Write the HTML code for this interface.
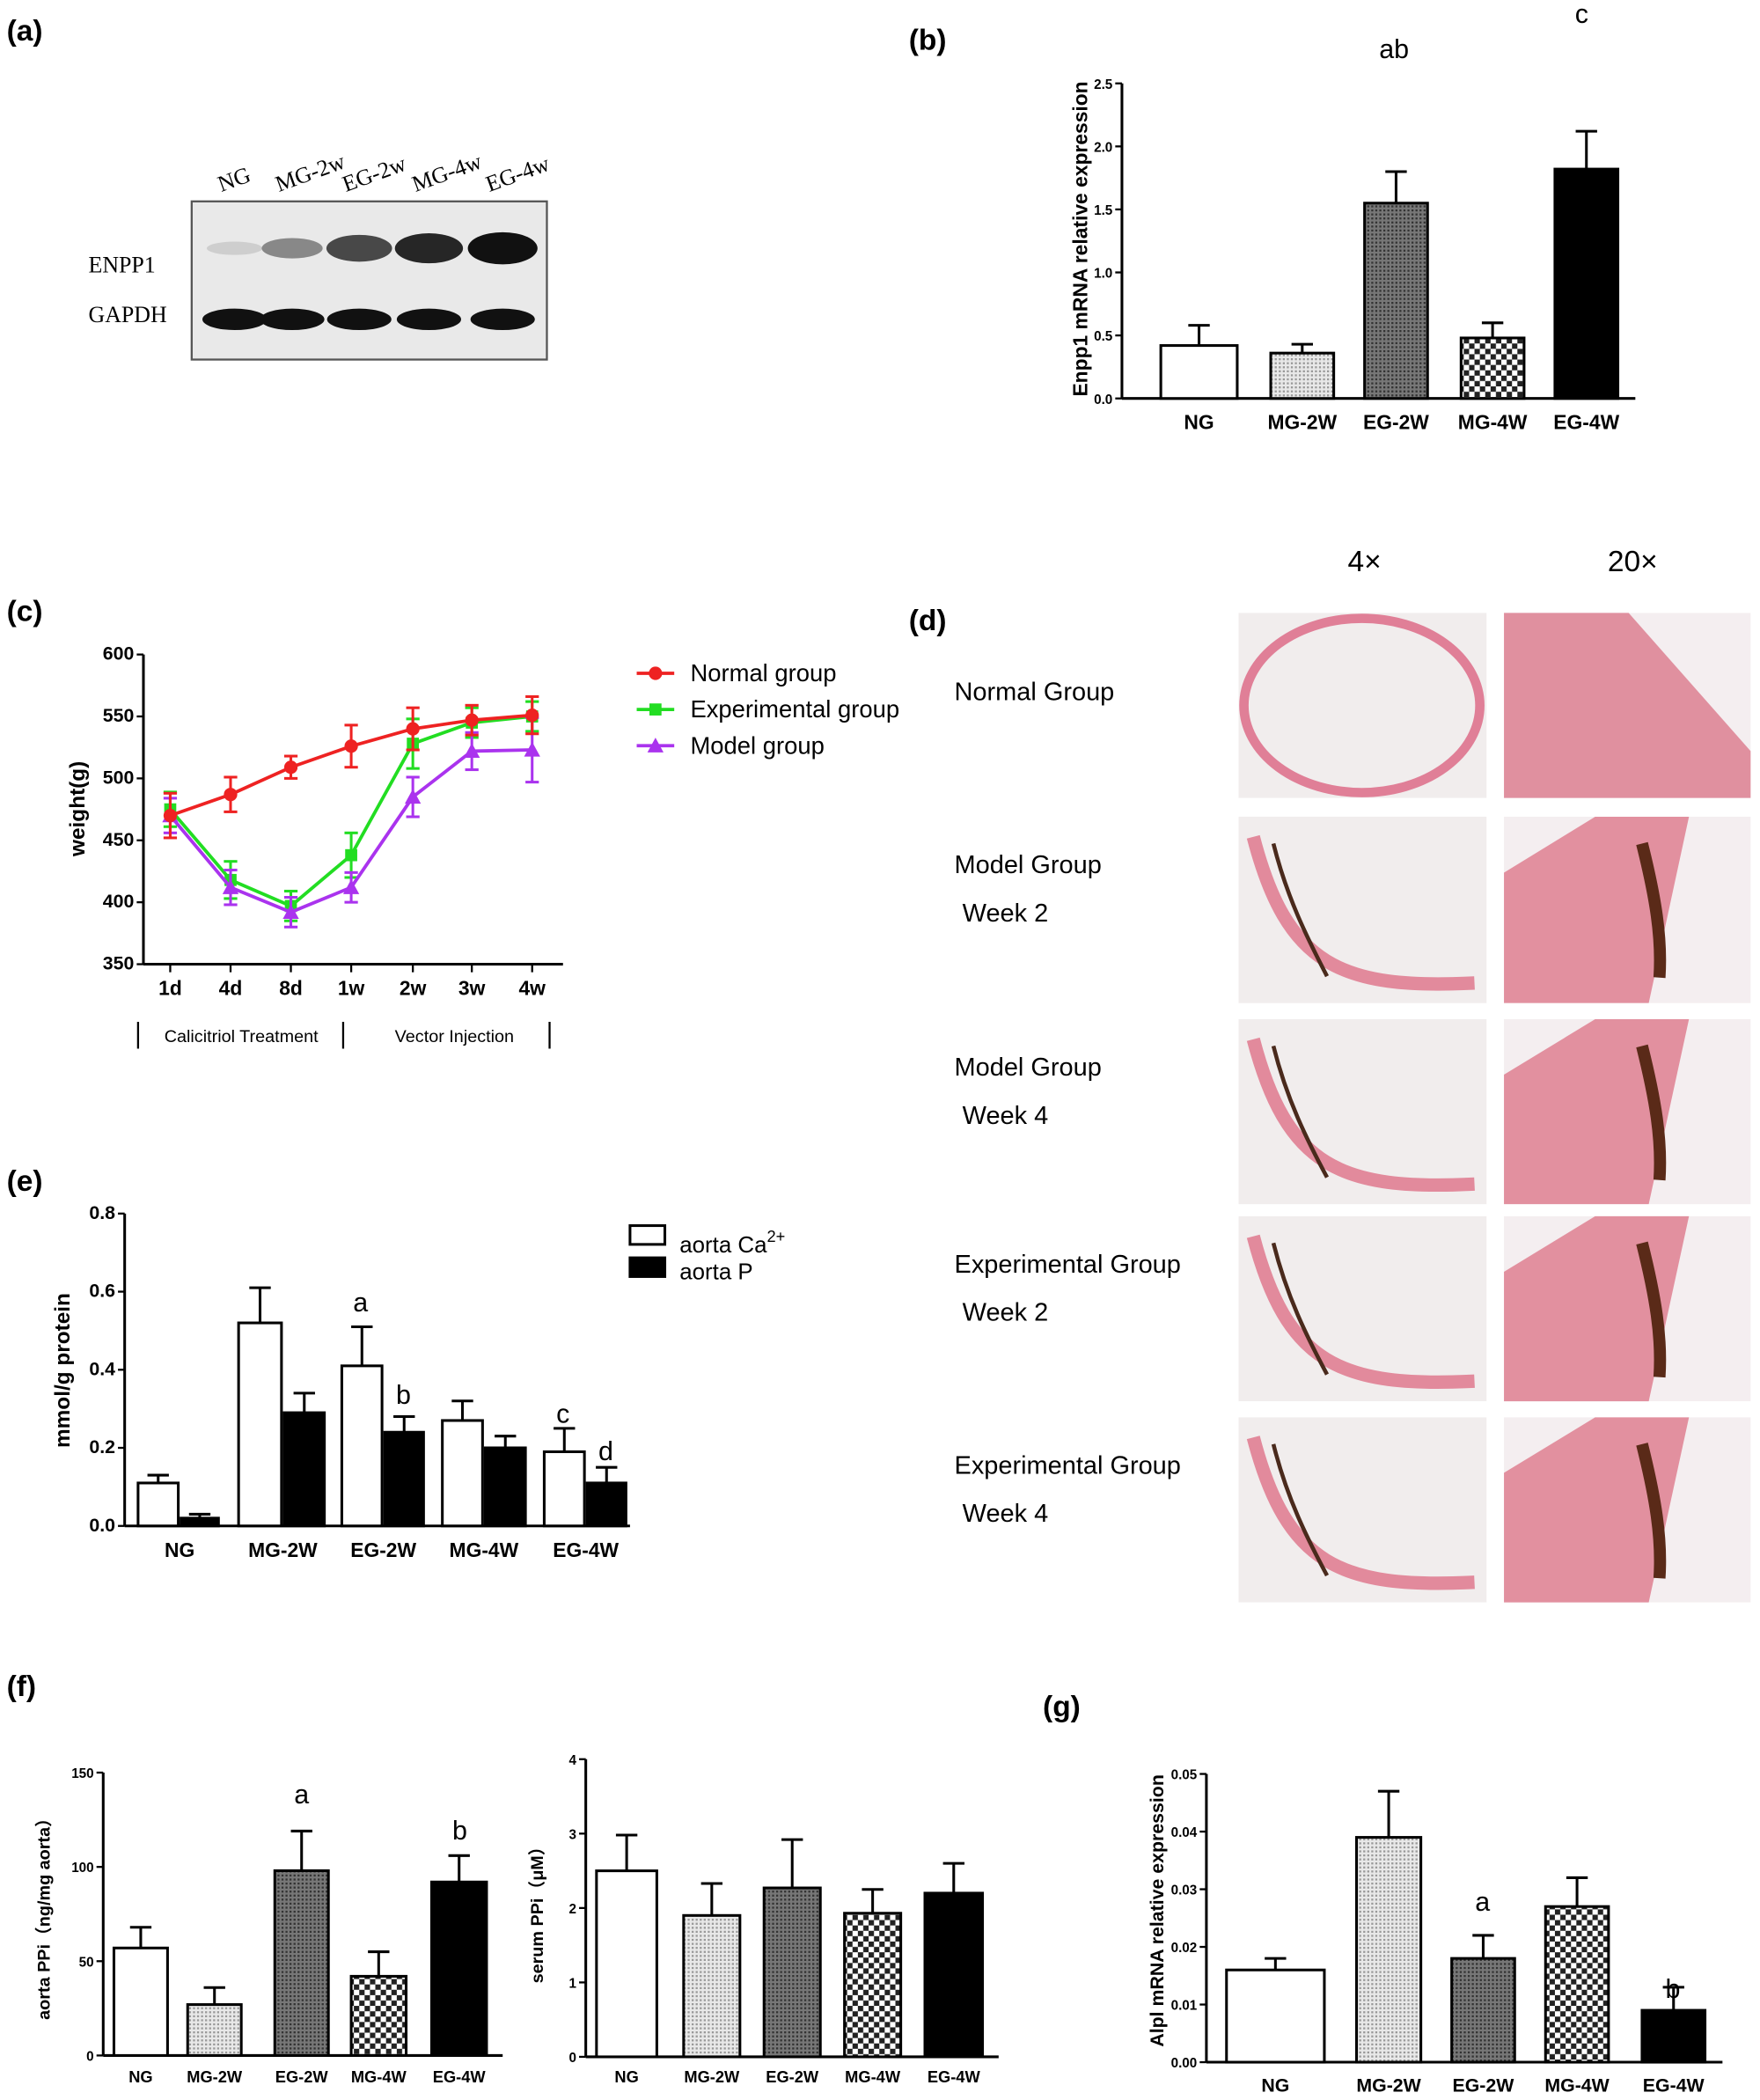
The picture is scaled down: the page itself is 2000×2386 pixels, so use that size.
<!DOCTYPE html>
<html><head><meta charset="utf-8"><style>
html,body{margin:0;padding:0;background:#fff;}
svg{display:block;font-family:"Liberation Sans",Arial,sans-serif;}
</style></head><body>
<svg id="s" width="2000" height="2386" viewBox="0 0 1313 1566" xmlns="http://www.w3.org/2000/svg">
<defs>
<pattern id="dot" width="3" height="3" patternUnits="userSpaceOnUse"><rect width="3" height="3" fill="#e8e8e8"/><rect width="1.5" height="1.5" fill="#999"/></pattern>
<pattern id="gr" width="3" height="3" patternUnits="userSpaceOnUse"><rect width="3" height="3" fill="#777"/><rect width="1.5" height="1.5" fill="#333"/></pattern>
<pattern id="ck" width="8" height="8" patternUnits="userSpaceOnUse"><rect width="8" height="8" fill="#fff"/><rect width="4" height="4" fill="#222"/><rect x="4" y="4" width="4" height="4" fill="#222"/></pattern>
</defs>
<g id="g"></g>
</svg>
<script>
var o='';
function T(x,y,t,sz,a,extra){o+='<text x="'+x+'" y="'+y+'" font-size="'+(sz||14)+'" text-anchor="'+(a||'start')+'" '+(extra||'')+'>'+t+'</text>';}
function L(x1,y1,x2,y2,w,c){o+='<line x1="'+x1+'" y1="'+y1+'" x2="'+x2+'" y2="'+y2+'" stroke="'+(c||'#000')+'" stroke-width="'+(w||1.5)+'"/>';}
function R(x,y,w,h,f,st){o+='<rect x="'+x+'" y="'+y+'" width="'+w+'" height="'+h+'" fill="'+f+'" stroke="'+(st||'#000')+'" stroke-width="2"/>';}
function bar(x1,x2,y0,ppu,v,e,f){var y=y0-v*ppu,ye=y0-e*ppu,m=(x1+x2)/2;L(m,y,m,ye,2);L(m-8,ye,m+8,ye,2);R(x1,y,x2-x1,v*ppu,f);}
function yaxis(x,yt,yb,ticks,fmt,sz){L(x,yt,x,yb,2);for(var i=0;i<ticks.length;i++){var y=yb-(yb-yt)*i/(ticks.length-1);L(x-5,y,x,y,1.5);T(x-7,y+4,ticks[i],sz||10,'end','font-weight="bold"');}}
T(5,30,'(a)',22,'start','font-weight="bold"');T(678,37,'(b)',22,'start','font-weight="bold"');
T(5,463,'(c)',22,'start','font-weight="bold"');T(678,470,'(d)',22,'start','font-weight="bold"');
T(5,888,'(e)',22,'start','font-weight="bold"');T(5,1265,'(f)',22,'start','font-weight="bold"');T(778,1280,'(g)',22,'start','font-weight="bold"');
o+='<rect x="143" y="150" width="265" height="118" fill="#e9e9e9" stroke="#555" stroke-width="1.5"/>';
var bx=[175,218,268,320,375],ei=[0.12,0.45,0.75,0.9,1];
for(var i=0;i<5;i++){o+='<ellipse cx="'+bx[i]+'" cy="185" rx="'+(20+ei[i]*6)+'" ry="'+(4+ei[i]*8)+'" fill="#111" opacity="'+ei[i]+'"/>';o+='<ellipse cx="'+bx[i]+'" cy="238" rx="24" ry="8" fill="#111"/>';}
var ln=['NG','MG-2w','EG-2w','MG-4w','EG-4w'];
for(var i=0;i<5;i++)T(bx[i]-10,143,ln[i],17,'start','font-family="Liberation Serif" transform="rotate(-20 '+(bx[i]-10)+' 143)"');
T(66,203,'ENPP1',17,'start','font-family="Liberation Serif"');T(66,240,'GAPDH',17,'start','font-family="Liberation Serif"');
yaxis(837,62,297,['0.0','0.5','1.0','1.5','2.0','2.5']);L(837,297,1220,297,2);
var p=94,xb=[[866,923],[948,995],[1018,1065],[1090,1137],[1160,1207]],vb=[.42,.36,1.55,.48,1.82],eb=[.58,.43,1.8,.6,2.12],fb=['#fff','url(#dot)','url(#gr)','url(#ck)','#000'],lb=['NG','MG-2W','EG-2W','MG-4W','EG-4W'];
for(var i=0;i<5;i++){bar(xb[i][0],xb[i][1],297,p,vb[i],eb[i],fb[i]);T((xb[i][0]+xb[i][1])/2,320,lb[i],15,'middle','font-weight="bold"');}
T(1040,43,'ab',20,'middle');T(1180,17,'c',20,'middle');
T(811,178,'Enpp1 mRNA relative expression',15,'middle','font-weight="bold" transform="rotate(-90 811 178)"');
yaxis(107,488,719,['350','400','450','500','550','600'],0,14);L(107,719,420,719,2);
var cx=[127,172,217,262,308,352,397],cl=['1d','4d','8d','1w','2w','3w','4w'];
for(var i=0;i<7;i++){L(cx[i],719,cx[i],725,1.5);T(cx[i],742,cl[i],15,'middle','font-weight="bold"');}
function cy(v){return 719-(v-350)*0.924;}
function series(vals,err,c,m){var d='';for(var i=0;i<7;i++){d+=(i?'L':'M')+cx[i]+','+cy(vals[i]);L(cx[i],cy(vals[i]-err[i]),cx[i],cy(vals[i]+err[i]),2,c);L(cx[i]-5,cy(vals[i]-err[i]),cx[i]+5,cy(vals[i]-err[i]),2,c);L(cx[i]-5,cy(vals[i]+err[i]),cx[i]+5,cy(vals[i]+err[i]),2,c);}
o+='<path d="'+d+'" fill="none" stroke="'+c+'" stroke-width="2.5"/>';for(var i=0;i<7;i++)mk(cx[i],cy(vals[i]),c,m);}
function mk(x,y,c,m){if(m==0)o+='<circle cx="'+x+'" cy="'+y+'" r="5" fill="'+c+'"/>';else if(m==1)o+='<rect x="'+(x-4.5)+'" y="'+(y-4.5)+'" width="9" height="9" fill="'+c+'"/>';else o+='<polygon points="'+x+','+(y-6)+' '+(x+6)+','+(y+5)+' '+(x-6)+','+(y+5)+'" fill="'+c+'"/>';}
series([475,418,397,438,528,545,550],[14,15,12,18,20,12,12],'#22dd22',1);
series([470,412,392,412,485,522,523],[14,14,12,12,16,15,26],'#aa33ee',2);
series([470,487,509,526,540,547,551],[18,14,9,17,17,12,15],'#ee2222',0);
T(63,603,'weight(g)',16,'middle','font-weight="bold" transform="rotate(-90 63 603)"');
var lc=['#ee2222','#22dd22','#aa33ee'],lt=['Normal group','Experimental group','Model group'];
for(var i=0;i<3;i++){var y=502+i*27;L(475,y,503,y,2.5,lc[i]);mk(489,y,lc[i],i);T(515,y+6,lt[i],18);}
L(103,762,103,782,1.5);L(256,762,256,782,1.5);L(410,762,410,782,1.5);
T(180,777,'Calicitriol Treatment',13,'middle');T(339,777,'Vector Injection',13,'middle');
T(1018,426,'4×',22,'middle');T(1218,426,'20×',22,'middle');
var ry=[[457,595],[609,748],[760,898],[907,1045],[1057,1195]];
var dl=[['Normal Group'],['Model Group','Week 2'],['Model Group','Week 4'],['Experimental Group','Week 2'],['Experimental Group','Week 4']];
for(var i=0;i<5;i++){var y0=ry[i][0],h=ry[i][1]-ry[i][0];
o+='<rect x="924" y="'+y0+'" width="185" height="'+h+'" fill="#f1eded"/>';
o+='<rect x="1122" y="'+y0+'" width="184" height="'+h+'" fill="#f4eef0"/>';
if(i==0){o+='<ellipse cx="1016" cy="526" rx="88" ry="65" fill="none" stroke="#e07f97" stroke-width="7"/>';o+='<polygon points="1122,457 1215,457 1306,560 1306,595 1122,595" fill="#e0909f"/>';}
else{o+='<path d="M935,'+(y0+15)+' C960,'+(y0+h*0.8)+' 1000,'+(y0+h-10)+' 1100,'+(y0+h-15)+'" fill="none" stroke="#e28a9c" stroke-width="10"/>';
o+='<path d="M950,'+(y0+20)+' C960,'+(y0+60)+' 975,'+(y0+90)+' 990,'+(y0+h-20)+'" fill="none" stroke="#4a2a1c" stroke-width="3"/>';
o+='<polygon points="1122,'+(y0+h*0.3)+' 1190,'+y0+' 1260,'+y0+' 1230,'+(y0+h)+' 1122,'+(y0+h)+'" fill="#e2909f"/>';
o+='<path d="M1225,'+(y0+20)+' C1235,'+(y0+60)+' 1240,'+(y0+90)+' 1238,'+(y0+120)+'" stroke="#5a2a18" stroke-width="9" fill="none"/>';}
var t=dl[i];T(712,y0+(t.length>1?42:65),t[0],19);if(t.length>1)T(718,y0+78,t[1],19);}
yaxis(93,905,1138,['0.0','0.2','0.4','0.6','0.8'],0,14);L(93,1138,470,1138,2);
var pe=291.25,ex=[[103,133,135,163],[178,210,212,242],[255,285,287,316],[330,360,362,392],[406,436,438,467]],ev=[[.11,.13,.02,.03],[.52,.61,.29,.34],[.41,.51,.24,.28],[.27,.32,.2,.23],[.19,.25,.11,.15]];
for(var i=0;i<5;i++){bar(ex[i][0],ex[i][1],1138,pe,ev[i][0],ev[i][1],'#fff');bar(ex[i][2],ex[i][3],1138,pe,ev[i][2],ev[i][3],'#000');T(ex[i][1]+1,1161,lb[i],15,'middle','font-weight="bold"');}
T(269,978,'a',20,'middle');T(301,1047,'b',20,'middle');T(420,1061,'c',20,'middle');T(452,1089,'d',20,'middle');
T(52,1022,'mmol/g protein',16,'middle','font-weight="bold" transform="rotate(-90 52 1022)"');
R(470,914,26,14,'#fff');R(470,938,26,14,'#000');T(507,934,'aorta Ca<tspan font-size="12" dy="-8">2+</tspan>',17);T(507,954,'aorta P',17);
yaxis(77,1322,1533,['0','50','100','150'],0,10);L(77,1533,375,1533,2);
var pf=211/150,fx=[[85,125],[140,180],[205,245],[262,303],[322,363]],fv=[57,27,98,42,92],fe=[68,36,119,55,106];
for(var i=0;i<5;i++){bar(fx[i][0],fx[i][1],1533,pf,fv[i],fe[i],fb[i]);T((fx[i][0]+fx[i][1])/2,1553,lb[i],12,'middle','font-weight="bold"');}
T(225,1345,'a',20,'middle');T(343,1372,'b',20,'middle');
T(37,1428,'aorta PPi（ng/mg aorta）',13,'middle','font-weight="bold" font-family="Liberation Sans, Noto Sans CJK SC, sans-serif" transform="rotate(-90 37 1428)"');
yaxis(437,1312,1534,['0','1','2','3','4'],0,10);L(437,1534,745,1534,2);
var pr=222/4,rx=[[445,490],[510,552],[570,612],[630,672],[690,733]],rv=[2.5,1.9,2.27,1.93,2.2],re=[2.98,2.33,2.92,2.25,2.6];
for(var i=0;i<5;i++){bar(rx[i][0],rx[i][1],1534,pr,rv[i],re[i],fb[i]);T((rx[i][0]+rx[i][1])/2,1553,lb[i],12,'middle','font-weight="bold"');}
T(405,1425,'serum PPi（μM）',13,'middle','font-weight="bold" font-family="Liberation Sans, Noto Sans CJK SC, sans-serif" transform="rotate(-90 405 1425)"');
yaxis(900,1323,1538,['0.00','0.01','0.02','0.03','0.04','0.05'],0,10);L(900,1538,1285,1538,2);
var pg=215/0.05,gx=[[915,988],[1012,1060],[1083,1130],[1153,1200],[1225,1272]],gv=[.016,.039,.018,.027,.009],ge=[.018,.047,.022,.032,.013];
for(var i=0;i<5;i++){bar(gx[i][0],gx[i][1],1538,pg,gv[i],ge[i],fb[i]);T((gx[i][0]+gx[i][1])/2,1560,lb[i],14,'middle','font-weight="bold"');}
T(1106,1425,'a',20,'middle');T(1248,1490,'b',20,'middle');
T(868,1425,'Alpl mRNA relative expression',14,'middle','font-weight="bold" transform="rotate(-90 868 1425)"');
document.getElementById('g').innerHTML=o;
</script>
</body></html>
